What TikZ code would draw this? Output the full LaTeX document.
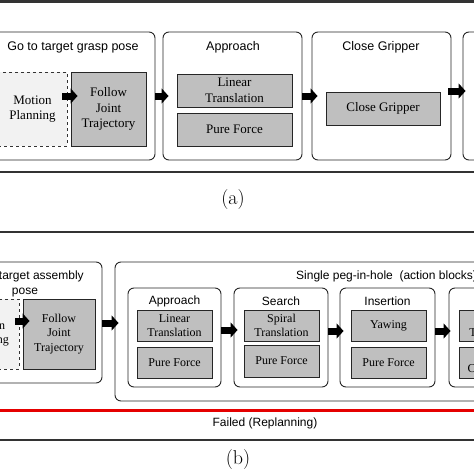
\documentclass[tikz,border=0pt]{standalone}
\usepackage{fontspec}
\newfontfamily\ars{Liberation Sans}
\newfontfamily\tnr{Liberation Serif}
\usetikzlibrary{arrows.meta}
\begin{document}
\begin{tikzpicture}[x=1pt,y=-1pt,
  frame/.style={draw=black!85, line width=0.9pt, rounded corners=6pt, fill=white, inner sep=0pt},
  act/.style={draw=black!85, line width=0.9pt, fill=black!25, inner sep=0pt, align=center},
  plan/.style={draw=black!80, line width=0.9pt, dashed, fill=black!5, inner sep=0pt, align=center},
  fa/.style={font=\tnr\fontsize{13}{15.7}\selectfont},
  fb/.style={font=\tnr\fontsize{12}{14.3}\selectfont},
  ta/.style={inner sep=0pt, align=center, font=\ars\fontsize{12.5}{15}\selectfont},
  tb/.style={inner sep=0pt, align=center, font=\ars\fontsize{12}{15}\selectfont},
  blk/.style={line width=7pt, black, -{Triangle[length=7pt,width=15pt]}},
  hline/.style={draw=black!80},
  captext/.style={inner sep=0pt, font=\fontsize{20}{22}\selectfont}
]
\useasboundingbox (0,0) rectangle (474,474);
\clip (0,0) rectangle (474,474);
\fill[white] (0,0) rectangle (474,474);

% ---------- panel (a) ----------
\draw[hline, line width=3pt] (0,1.5) coordinate (ra1) -- (474,1.5) coordinate (ra2);
\draw[hline, line width=2pt] (0,172) coordinate (rb1) -- (474,172) coordinate (rb2);

\node[frame, minimum width=166pt, minimum height=128pt] (g1) at (72,96) {};
\node[ta] (g1t) at (73,47) {Go to target grasp pose};
\node[plan, fa, minimum width=69pt, minimum height=74pt] (mp1) at (32.5,109) {Motion\\Planning};
\node[act, fa, minimum width=75pt, minimum height=74pt] (fj1) at (108.5,109) {Follow\\Joint\\Trajectory};

\node[frame, minimum width=139pt, minimum height=128pt] (ap1) at (232.5,96) {};
\node[ta] (ap1t) at (233,47) {Approach};
\node[act, fa, minimum width=115pt, minimum height=33pt] (lt1) at (234.5,90.5) {Linear\\Translation};
\node[act, fa, minimum width=115pt, minimum height=33pt] (pf1) at (234.5,129.5) {Pure Force};

\node[frame, minimum width=139pt, minimum height=128pt] (cg1) at (381.5,96) {};
\node[ta] (cg1t) at (381,47) {Close Gripper};
\node[act, fa, minimum width=114pt, minimum height=33pt] (cgb) at (383,108.5) {Close Gripper};

\node[frame, minimum width=139pt, minimum height=128pt] (nx1) at (532.5,96) {};

\draw[blk, shorten <=-5pt, shorten >=-7pt] ([yshift=13pt]mp1.east) -- ([yshift=13pt]fj1.west);
\draw[blk, shorten >=-6pt] (g1.east) -- (ap1.west);
\draw[blk, shorten >=-6pt] (ap1.east) -- (cg1.west);
\draw[blk, shorten <=-3pt, shorten >=-3pt] ([yshift=5pt]cg1.east) -- ([yshift=5pt]nx1.west);

\node[captext] (capa) at (233,200) {(a)};

% ---------- panel (b) ----------
\draw[hline, line width=1.5pt] (0,232) coordinate (rc1) -- (474,232) coordinate (rc2);
\draw[hline, line width=1.5pt] (0,440) coordinate (rd1) -- (474,440) coordinate (rd2);

\node[frame, minimum width=154pt, minimum height=121pt] (g2) at (25,322.5) {};
\node[tb] (g2t) at (25,283.5) {Go to target assembly\\pose};
\node[plan, fb, minimum width=63pt, minimum height=70pt] (mp2) at (-12.5,334) {Motion\\Planning};
\node[act, fb, minimum width=72pt, minimum height=70pt] (fj2) at (59,334) {Follow\\Joint\\Trajectory};

\node[frame, minimum width=600pt, minimum height=139pt] (sp) at (415,331.5) {};
\node[tb, anchor=west] (spt) at (296,276) {Single peg-in-hole\ \ (action blocks)};

\node[frame, minimum width=93pt, minimum height=99pt] (ap2) at (174.5,337.5) {};
\node[tb] (ap2t) at (174.5,301) {Approach};
\node[act, fb, minimum width=75pt, minimum height=31pt] (lt2) at (174.5,325.5) {Linear\\Translation};
\node[act, fb, minimum width=75pt, minimum height=31pt] (pf2) at (174.5,362.5) {Pure Force};

\node[frame, minimum width=94pt, minimum height=99pt] (se2) at (281,337.5) {};
\node[tb] (se2t) at (281,301) {Search};
\node[act, fb, minimum width=75pt, minimum height=31pt] (st2) at (281.5,325.5) {Spiral\\Translation};
\node[act, fb, minimum width=75pt, minimum height=32pt] (pf3) at (281.5,361) {Pure Force};

\node[frame, minimum width=95pt, minimum height=99pt] (in2) at (387.5,337.5) {};
\node[tb] (in2t) at (387.5,301) {Insertion};
\node[act, fb, minimum width=75pt, minimum height=31pt] (yw2) at (388.5,325.5) {Yawing};
\node[act, fb, minimum width=75pt, minimum height=31pt] (pf4) at (388.5,362.5) {Pure Force};

\node[frame, minimum width=94pt, minimum height=99pt] (nx2) at (496,337.5) {};
\node[act, fb, minimum width=75pt, minimum height=31pt] (nt2) at (496.5,325.5) {Linear\\Translation};
\node[act, fb, minimum width=75pt, minimum height=31pt] (nc2) at (496.5,362.5) {Pure\\Compliance};

\draw[blk, shorten <=-4pt, shorten >=-7pt] ([yshift=13pt]mp2.east) -- ([yshift=13pt]fj2.west);
\draw[blk, shorten >=-4pt] ([yshift=-0.5pt]g2.east) -- ([yshift=-0.5pt]g2.east -| sp.west);
\draw[blk, shorten >=-4pt] ([yshift=7.5pt]ap2.east) -- ([yshift=7.5pt]se2.west);
\draw[blk, shorten >=-4pt] ([yshift=6.5pt]se2.east) -- ([yshift=6.5pt]in2.west);
\draw[blk, shorten >=-2pt] ([yshift=6.5pt]in2.east) -- ([yshift=6.5pt]nx2.west);

\draw[draw=red!90!black, line width=3pt] (0,410) coordinate (fl1) -- (474,410) coordinate (fl2);
\node[tb] (fail) at (265,423) {Failed (Replanning)};

\node[captext] (capb) at (238,460) {(b)};
\end{tikzpicture}
\end{document}
